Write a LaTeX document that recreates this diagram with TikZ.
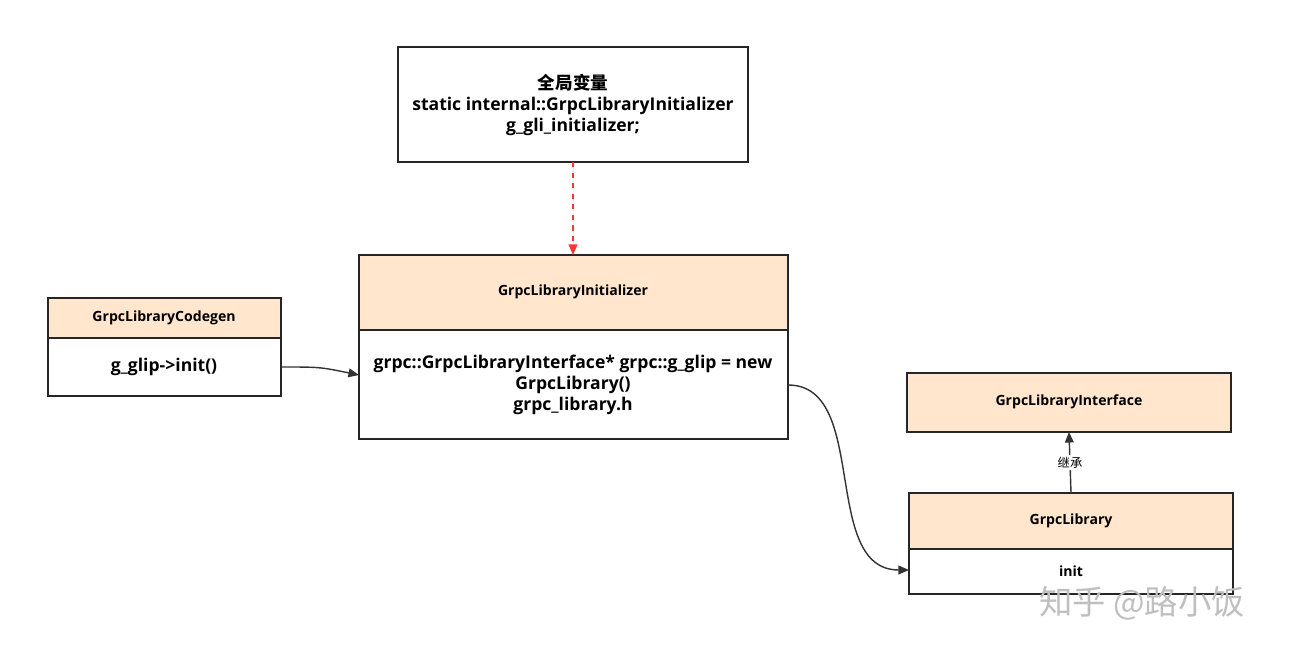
\documentclass[tikz,border=0pt]{standalone}
\usepackage{fontspec}
\setmainfont{Open Sans}
\newfontfamily\cjk{Noto Sans CJK SC}
\usetikzlibrary{arrows.meta}
\definecolor{peach}{HTML}{FFE6CC}
\tikzset{
 box/.style={draw=black!85,line width=0.8pt},
 hdr/.style={draw=black!85,line width=0.8pt,fill=peach},
 big/.style={font=\bfseries\fontsize{10}{12}\selectfont,align=center},
 small/.style={font=\bfseries\fontsize{8}{10}\selectfont,align=center},
 conn/.style={line width=0.8pt,draw=black!80,-{Triangle[length=6pt,width=5pt]}}
}
\begin{document}
\begin{tikzpicture}[x=0.02cm,y=-0.02cm]
\useasboundingbox (0,0) rectangle (1295,655);
% top box
\draw[box] (398,47) rectangle (748,162);
\node[big] (top) at (573,105) {{\cjk 全局变量}\\static internal::GrpcLibraryInitializer\\g\_gli\_initializer;};
\coordinate (topS) at (573,162);
% initializer
\draw[hdr] (359,255) rectangle (788,330);
\draw[box] (359,330) rectangle (788,439);
\node[small] (inith) at (573,292) {GrpcLibraryInitializer};
\node[big] (initb) at (573,385) {grpc::GrpcLibraryInterface* grpc::g\_glip = new\\GrpcLibrary()\\grpc\_library.h};
\coordinate (initN) at (573,255);
\coordinate (initL) at (359,375);
\coordinate (initR) at (788,385);
% codegen
\draw[hdr] (48,298) rectangle (281,338);
\draw[box] (48,338) rectangle (281,396);
\node[small] (cgh) at (164,318) {GrpcLibraryCodegen};
\node[big] (cgb) at (164,367) {g\_glip->init()};
\coordinate (cgR) at (281,367);
% interface
\draw[hdr] (907,373) rectangle (1231,432);
\node[small] (ifc) at (1069,402) {GrpcLibraryInterface};
\coordinate (ifcS) at (1069,432);
% library
\draw[hdr] (909,493) rectangle (1233,549);
\draw[box] (909,549) rectangle (1233,594);
\node[small] (libh) at (1071,521) {GrpcLibrary};
\node[small] (libb) at (1071,571) {init};
\coordinate (libN) at (1071,493);
\coordinate (libW) at (909,570);
% connectors
\draw[line width=0.8pt,draw=red!80,dashed,-{Triangle[length=6pt,width=5pt]},fill=red!80] (topS) -- (initN);
\draw[conn] (cgR) .. controls (320,367) .. (initL);
\draw[conn] (initR) .. controls (870,385) and (820,570) .. (libW);
\draw[conn] (libN) -- node[fill=white,inner sep=1pt,font=\cjk\fontsize{7}{8}\selectfont,pos=0.5] (jc) {继承} (ifcS);
% watermark
\node[font=\cjk\fontsize{19}{22}\selectfont,text=black!25] (wm) at (1142,603) {知乎 @路小饭};
\end{tikzpicture}
\end{document}
